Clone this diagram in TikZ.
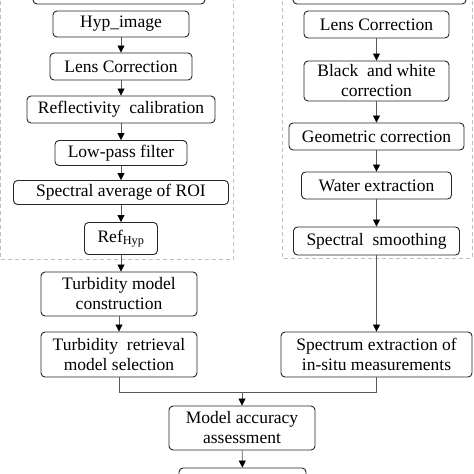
\documentclass[tikz,border=0pt]{standalone}
\usepackage{fontspec}
\setmainfont{Liberation Serif}
\usetikzlibrary{arrows.meta}
\begin{document}
\begin{tikzpicture}[x=1pt,y=-1pt,
  box/.style={draw=black!85, line width=0.9pt, rounded corners=4pt, inner sep=0pt,
    align=center, font=\fontsize{17.5}{20}\selectfont},
  arr/.style={draw=black!65, line width=0.8pt, -{Triangle[length=7pt,width=7pt,color=black]}},
  ln/.style={draw=black!65, line width=0.8pt},
  dbox/.style={draw=black!25, line width=0.8pt, dash pattern=on 4pt off 3pt}]
\clip (0,0) rectangle (474,474);
\fill[white] (0,0) rectangle (474,474);
% dashed groups
\draw[dbox] (0.5,-20) rectangle (233,259);
\draw[dbox] (282,-20) rectangle (472,258);
% partial top boxes
\node[box, minimum width=172pt, minimum height=30pt] (topL) at (119,-11) {};
\node[box, minimum width=173pt, minimum height=30pt] (topR) at (379.5,-11) {};
% left column
\node[box, minimum width=136pt, minimum height=26pt] (hyp) at (121,24) {Hyp\_image};
\node[box, minimum width=142pt, minimum height=27pt] (lensL) at (121,66.5) {Lens Correction};
\node[box, minimum width=188pt, minimum height=27pt] (refl) at (121,109.5) {Reflectivity\ \ calibration};
\node[box, minimum width=132pt, minimum height=25pt] (lowp) at (121,153) {Low-pass filter};
\node[box, minimum width=215pt, minimum height=24pt] (spav) at (121,192.5) {Spectral average of ROI};
\node[box, minimum width=73pt, minimum height=32pt] (ref) at (121,238.5) {Ref\textsubscript{Hyp}};
\node[box, minimum width=156pt, minimum height=44pt] (tmc) at (119,294) {Turbidity model\\construction};
\node[box, minimum width=156pt, minimum height=45pt] (trm) at (119,354.5) {Turbidity\ \ retrieval\\model selection};
% right column
\node[box, minimum width=145pt, minimum height=27pt] (lensR) at (376.5,24.5) {Lens Correction};
\node[box, minimum width=145pt, minimum height=40pt] (bw) at (376.5,81) {Black\ \ and white\\correction};
\node[box, minimum width=175pt, minimum height=27pt] (geo) at (376.5,136.5) {Geometric correction};
\node[box, minimum width=150pt, minimum height=27pt] (water) at (376.5,185.5) {Water extraction};
\node[box, minimum width=166pt, minimum height=28pt] (smooth) at (376.5,241) {Spectral\ \ smoothing};
\node[box, minimum width=191pt, minimum height=45pt] (spex) at (376.5,354.5) {Spectrum extraction of\\in-situ measurements};
% bottom
\node[box, minimum width=146pt, minimum height=44pt] (mac) at (242,428) {Model accuracy\\assessment};
\node[box, minimum width=127pt, minimum height=30pt] (fin) at (242.5,483) {};
% arrows left
\draw[arr] (hyp.south -| lensL.north) -- (lensL.north);
\draw[arr] (lensL) -- (refl);
\draw[arr] (refl) -- (lowp);
\draw[arr] (lowp) -- (spav);
\draw[arr] (spav) -- (ref);
\draw[arr] (ref.south) -- (ref.south |- tmc.north);
\draw[arr] (tmc) -- (trm);
% arrows right
\draw[arr] (lensR) -- (bw);
\draw[arr] (bw) -- (geo);
\draw[arr] (geo) -- (water);
\draw[arr] (water) -- (smooth);
\draw[arr] (smooth) -- (spex);
% merge
\coordinate (mj) at (242,392);
\draw[ln] (trm.south) |- (mj);
\draw[ln] (spex.south) |- (mj);
\draw[arr] (mj) -- (mac.north);
\draw[arr] (mac) -- (fin);
\end{tikzpicture}
\end{document}
